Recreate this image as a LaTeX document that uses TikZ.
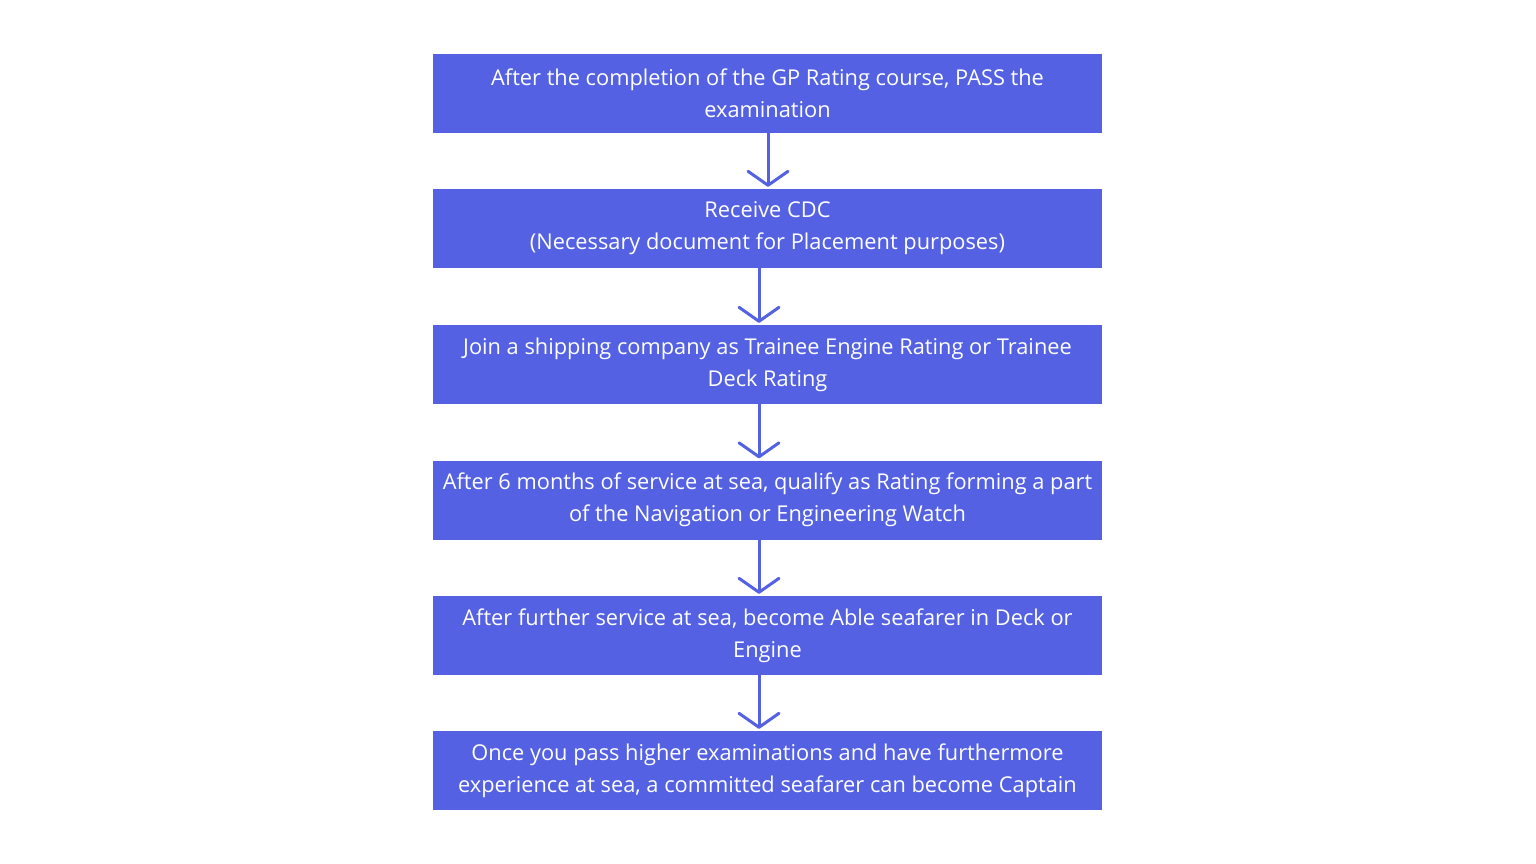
\documentclass[tikz,border=0pt]{standalone}
\usepackage{fontspec}
\setmainfont{Open Sans}
\usetikzlibrary{arrows.meta,positioning}
\definecolor{stepblue}{HTML}{5361E2}
\begin{document}
\begin{tikzpicture}[x=1pt,y=1pt,
    stepbox/.style={fill=stepblue,text=white,minimum width=669pt,minimum height=79pt,
      inner sep=0pt,align=center,font=\fontsize{21.8}{32}\selectfont},
    flow/.style={-{Straight Barb[length=14pt,width=40pt,round]},stepblue,line width=3pt,line cap=round}]
      \useasboundingbox (0,0) rectangle (1536,-864);

      \node[stepbox] (pass) at (767.5,-93.5) {After the completion of the GP Rating course, PASS the\\examination};
      \node[stepbox] (cdc) at (767.5,-228.5) {Receive CDC\\(Necessary document for Placement purposes)};
      \node[stepbox] (join) at (767.5,-364.5) {Join a shipping company as Trainee Engine Rating or Trainee\\Deck Rating};
      \node[stepbox] (watch) at (767.5,-500) {After 6 months of service at sea, qualify as Rating forming a part\\of the Navigation or Engineering Watch};
      \node[stepbox] (able) at (767.5,-635.5) {After further service at sea, become Able seafarer in Deck or\\Engine};
      \node[stepbox] (captain) at (767.5,-770.5) {Once you pass higher examinations and have furthermore\\experience at sea, a committed seafarer can become Captain};

      \draw[flow] ([xshift=0.5pt]pass.south) -- ([xshift=0.5pt,yshift=2pt]cdc.north);
      \draw[flow] ([xshift=-8.5pt]cdc.south) -- ([xshift=-8.5pt,yshift=2pt]join.north);
      \draw[flow] ([xshift=-8.5pt]join.south) -- ([xshift=-8.5pt,yshift=2pt]watch.north);
      \draw[flow] ([xshift=-8.5pt]watch.south) -- ([xshift=-8.5pt,yshift=2pt]able.north);
      \draw[flow] ([xshift=-8.5pt]able.south) -- ([xshift=-8.5pt,yshift=2pt]captain.north);
\end{tikzpicture}
\end{document}
